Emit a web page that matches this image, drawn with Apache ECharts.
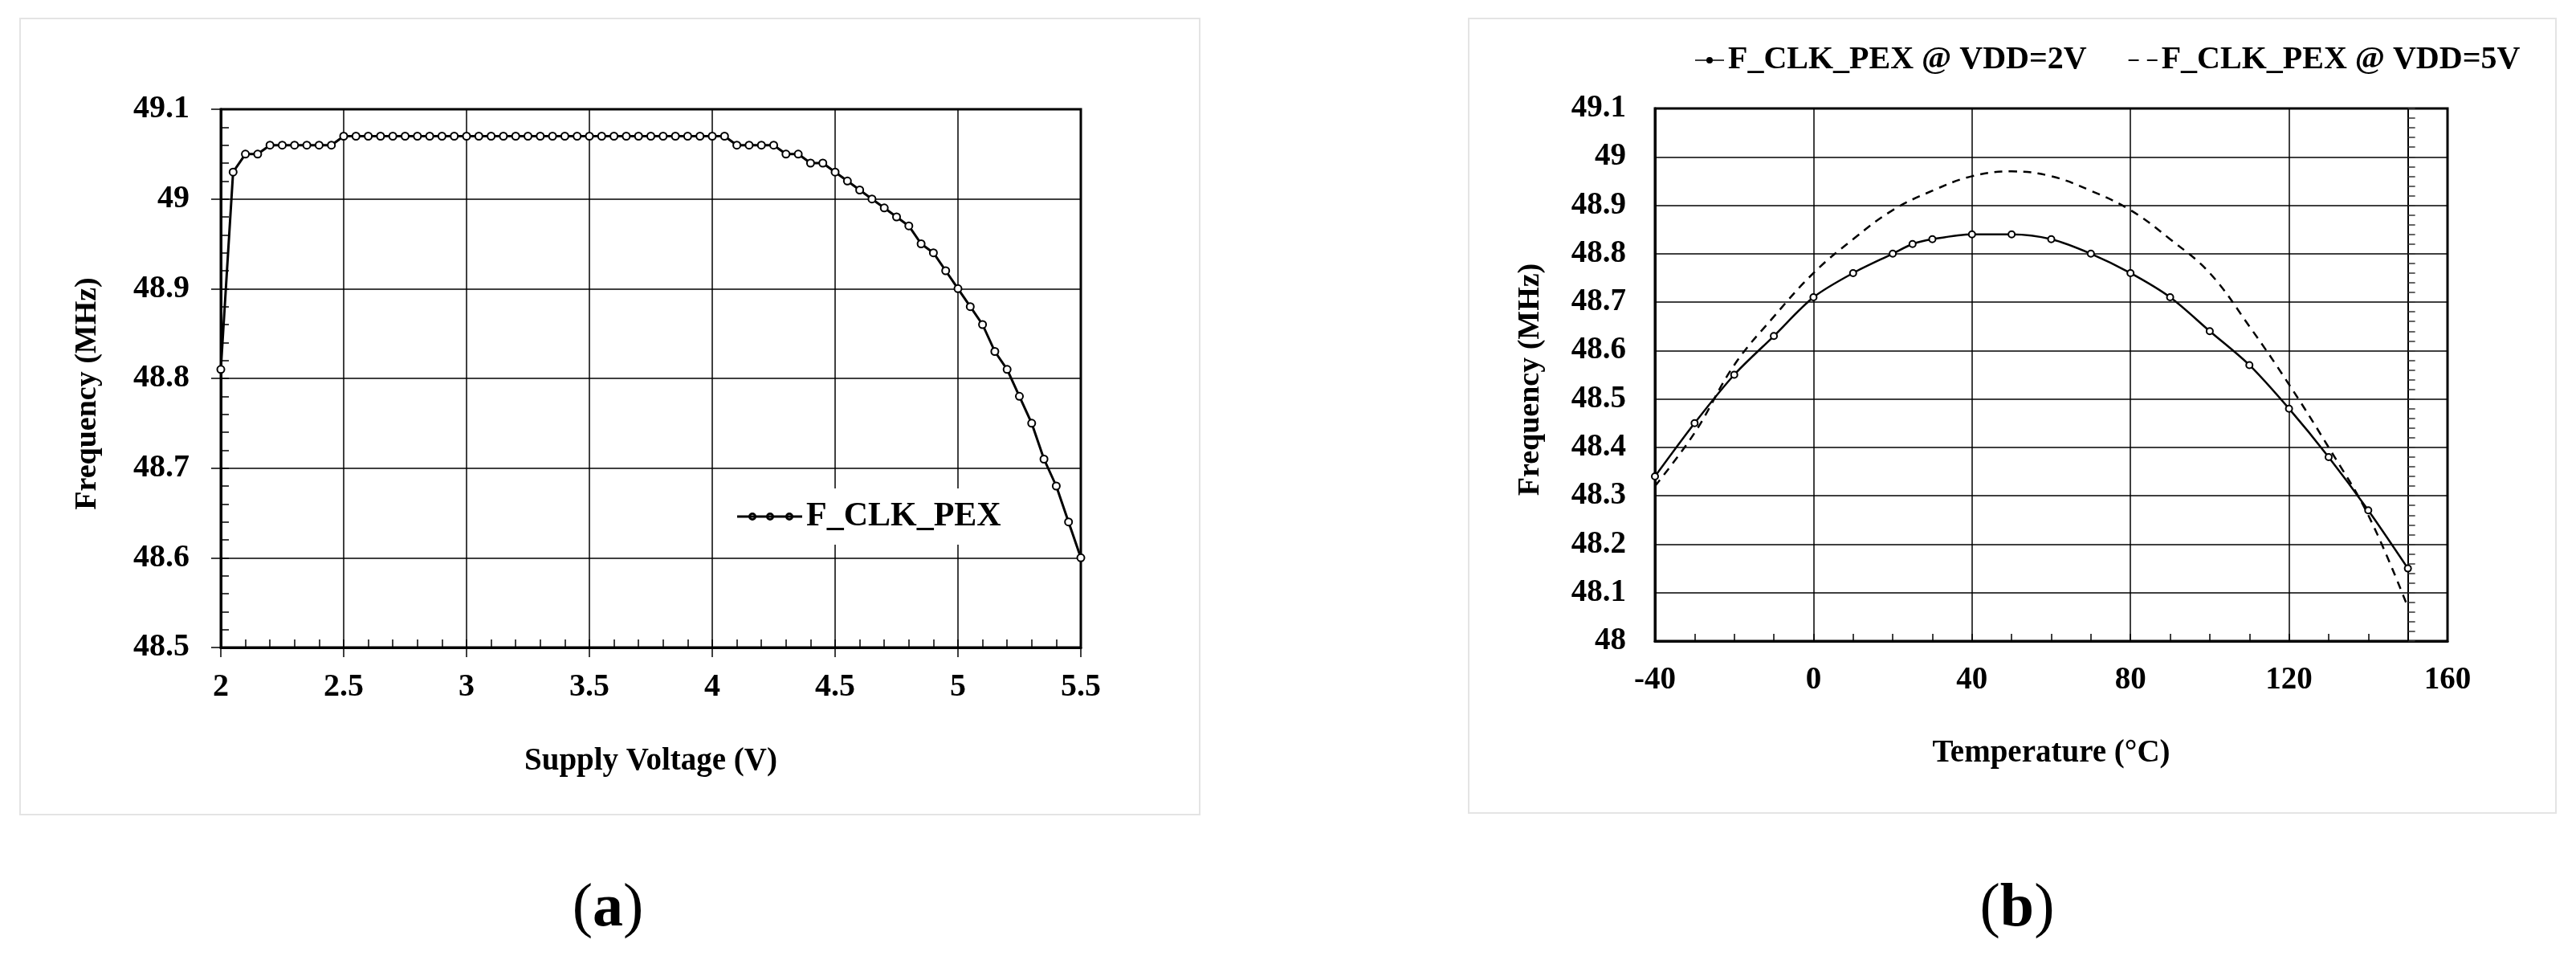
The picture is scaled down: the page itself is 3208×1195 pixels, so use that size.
<!DOCTYPE html>
<html>
<head>
<meta charset="utf-8">
<script src="https://cdn.jsdelivr.net/npm/echarts@6/dist/echarts.min.js"></script>
<style>
html,body{margin:0;padding:0;background:#fff;}
#c{width:3208px;height:1195px;}
</style>
</head>
<body>
<div id="c"></div>
<script>
// ---------- data ----------
const voltage = [2.00,2.05,2.10,2.15,2.20,2.25,2.30,2.35,2.40,2.45,
  2.50,2.55,2.60,2.65,2.70,2.75,2.80,2.85,2.90,2.95,
  3.00,3.05,3.10,3.15,3.20,3.25,3.30,3.35,3.40,3.45,
  3.50,3.55,3.60,3.65,3.70,3.75,3.80,3.85,3.90,3.95,
  4.00,4.05,4.10,4.15,4.20,4.25,4.30,4.35,4.40,4.45,
  4.50,4.55,4.60,4.65,4.70,4.75,4.80,4.85,4.90,4.95,
  5.00,5.05,5.10,5.15,5.20,5.25,5.30,5.35,5.40,5.45,5.50];
const freqVsVoltage = [48.81,49.03,49.05,49.05,49.06,49.06,49.06,49.06,49.06,49.06,
  49.07,49.07,49.07,49.07,49.07,49.07,49.07,49.07,49.07,49.07,
  49.07,49.07,49.07,49.07,49.07,49.07,49.07,49.07,49.07,49.07,
  49.07,49.07,49.07,49.07,49.07,49.07,49.07,49.07,49.07,49.07,
  49.07,49.07,49.06,49.06,49.06,49.06,49.05,49.05,49.04,49.04,
  49.03,49.02,49.01,49.00,48.99,48.98,48.97,48.95,48.94,48.92,
  48.90,48.88,48.86,48.83,48.81,48.78,48.75,48.71,48.68,48.64,48.60];

const temp2V = [-40,-30,-20,-10,0,10,20,25,30,40,50,60,70,80,90,100,110,120,130,140,150];
const freq2V = [48.34,48.45,48.55,48.63,48.71,48.76,48.80,48.82,48.83,48.84,48.84,48.83,48.80,48.76,48.71,48.64,48.57,48.48,48.38,48.27,48.15];

const temp5V = [-40,-30,-20,-10,0,10,20,30,40,50,60,70,80,90,100,110,120,130,140,150];
const freq5V = [48.32,48.43,48.57,48.67,48.76,48.83,48.89,48.93,48.96,48.97,48.96,48.93,48.89,48.83,48.76,48.65,48.53,48.40,48.26,48.07];

const nameA = 'F_CLK_PEX';
const name2V = 'F_CLK_PEX @ VDD=2V';
const name5V = 'F_CLK_PEX @ VDD=5V';
const titleXA = 'Supply Voltage (V)';
const titleXB = 'Temperature (°C)';
const titleY = 'Frequency (MHz)';

// ---------- styling helpers ----------
const FONT = 'Liberation Serif';
const lab = (size) => ({fontFamily: FONT, fontWeight: 'bold', fontSize: size, color: '#000'});
const fmt = v => String(Math.round(v * 100) / 100);
const BLACK = '#000';

const iconA = 'path://M0 3.5H81V6.5H0Z' +
  'M14 5a5 5 0 1 1 10 0a5 5 0 1 1 -10 0Z M16.8 5a2.2 2.2 0 1 0 4.4 0a2.2 2.2 0 1 0 -4.4 0Z' +
  'M36 5a5 5 0 1 1 10 0a5 5 0 1 1 -10 0Z M38.8 5a2.2 2.2 0 1 0 4.4 0a2.2 2.2 0 1 0 -4.4 0Z' +
  'M60 5a5 5 0 1 1 10 0a5 5 0 1 1 -10 0Z M62.8 5a2.2 2.2 0 1 0 4.4 0a2.2 2.2 0 1 0 -4.4 0Z';
const icon2V = 'path://M0 3.8H36V5.2H0Z M14 4.5a4 4 0 1 1 8 0a4 4 0 1 1 -8 0Z';
const icon5V = 'path://M4 0H14V1.6H4Z M22 0H32V1.6H22Z';

const chart = echarts.init(document.getElementById('c'), null, {renderer: 'canvas'});

const option = {
  backgroundColor: '#fff',
  animation: false,
  graphic: [
    {type: 'rect', silent: true, z: -10, shape: {x: 25, y: 23, width: 1469, height: 991},
     style: {fill: 'none', stroke: '#e4e4e4', lineWidth: 2}},
    {type: 'rect', silent: true, z: -10, shape: {x: 1829, y: 23, width: 1354, height: 989},
     style: {fill: 'none', stroke: '#e4e4e4', lineWidth: 2}},
    {type: 'text', x: 757, y: 1132, silent: true,
     style: {text: '{p|(}{b|a}{p|)}', align: 'center', verticalAlign: 'middle',
       rich: {p: {fontFamily: FONT, fontSize: 76, fontWeight: 'normal', fill: '#000'},
              b: {fontFamily: FONT, fontSize: 76, fontWeight: 'bold', fill: '#000'}}}},
    {type: 'text', x: 2512, y: 1132, silent: true,
     style: {text: '{p|(}{b|b}{p|)}', align: 'center', verticalAlign: 'middle',
       rich: {p: {fontFamily: FONT, fontSize: 76, fontWeight: 'normal', fill: '#000'},
              b: {fontFamily: FONT, fontSize: 76, fontWeight: 'bold', fill: '#000'}}}}
  ],
  legend: [
    {data: [{name: nameA, icon: iconA}], left: 908, top: 608, orient: 'horizontal',
     itemWidth: 81, itemHeight: 10, padding: [14, 10, 14, 10], backgroundColor: '#fff',
     selectedMode: false, textStyle: lab(42), itemStyle: {borderWidth: 0}},
    {data: [{name: name2V, icon: icon2V}, {name: name5V, icon: icon5V}], left: 2111, top: 55,
     itemWidth: 36, itemHeight: 9, itemGap: 52, padding: 0, selectedMode: false,
     textStyle: lab(40), itemStyle: {borderWidth: 0}}
  ],
  grid: [
    {left: 275, top: 136, width: 1071, height: 670, show: true, borderColor: BLACK, borderWidth: 3},
    {left: 2061, top: 135, width: 987, height: 663, show: true, borderColor: BLACK, borderWidth: 3}
  ],
  xAxis: [
    {gridIndex: 0, type: 'value', min: 2, max: 5.5, interval: 0.5, position: 'bottom',
     axisLine: {onZero: false, lineStyle: {color: BLACK, width: 3}},
     axisTick: {show: true, inside: false, length: 12, lineStyle: {color: BLACK, width: 1.5}},
     axisLabel: Object.assign(lab(40), {margin: 30, formatter: fmt}),
     splitLine: {show: true, lineStyle: {color: BLACK, width: 1.5}},
     name: titleXA, nameLocation: 'middle', nameGap: 122, nameTextStyle: lab(39)},
    {gridIndex: 0, type: 'value', min: 2, max: 5.5, interval: 0.1, position: 'bottom',
     axisLine: {show: false, onZero: false},
     axisTick: {show: true, inside: true, length: 10, lineStyle: {color: BLACK, width: 1.5}},
     axisLabel: {show: false}, splitLine: {show: false}},
    {gridIndex: 1, type: 'value', min: -40, max: 160, interval: 40, position: 'bottom',
     axisLine: {onZero: false, lineStyle: {color: BLACK, width: 3}},
     axisTick: {show: true, inside: true, length: 9, lineStyle: {color: BLACK, width: 1.5}},
     minorTick: {show: true, splitNumber: 4, length: 9, lineStyle: {color: BLACK, width: 1.5}},
     axisLabel: Object.assign(lab(39), {margin: 29, formatter: fmt}),
     splitLine: {show: true, lineStyle: {color: BLACK, width: 1.5}},
     name: titleXB, nameLocation: 'middle', nameGap: 120, nameTextStyle: lab(39)}
  ],
  yAxis: [
    {gridIndex: 0, type: 'value', min: 48.5, max: 49.1, interval: 0.1, position: 'left',
     axisLine: {onZero: false, lineStyle: {color: BLACK, width: 3}},
     axisTick: {show: true, inside: false, length: 12, lineStyle: {color: BLACK, width: 1.5}},
     axisLabel: Object.assign(lab(40), {margin: 39, formatter: fmt}),
     splitLine: {show: true, lineStyle: {color: BLACK, width: 1.5}},
     name: titleY, nameLocation: 'middle', nameGap: 147,
     nameTextStyle: Object.assign(lab(38), {padding: [0, 38, 0, 0]})},
    {gridIndex: 0, type: 'value', min: 48.5, max: 49.1, interval: 0.02, position: 'left',
     axisLine: {show: false, onZero: false},
     axisTick: {show: true, inside: true, length: 10, lineStyle: {color: BLACK, width: 1.5}},
     axisLabel: {show: false}, splitLine: {show: false}},
    {gridIndex: 1, type: 'value', min: 48, max: 49.1, interval: 0.1, position: 'left',
     axisLine: {onZero: false, lineStyle: {color: BLACK, width: 3}},
     axisTick: {show: false},
     axisLabel: Object.assign(lab(39), {margin: 36, formatter: fmt}),
     splitLine: {show: true, lineStyle: {color: BLACK, width: 1.5}},
     name: titleY, nameLocation: 'middle', nameGap: 136,
     nameTextStyle: Object.assign(lab(38), {padding: [0, 12, 0, 0]})},
    {gridIndex: 1, type: 'value', min: 48, max: 49.1, interval: 0.02, position: 'right', offset: -49.35,
     axisLine: {show: true, onZero: false, lineStyle: {color: BLACK, width: 2}},
     axisTick: {show: true, inside: false, length: 9, lineStyle: {color: '#333', width: 1.5}},
     axisLabel: {show: false}, splitLine: {show: false}}
  ],
  series: [
    {type: 'line', name: nameA, xAxisIndex: 0, yAxisIndex: 0, color: BLACK,
     data: voltage.map((v, i) => [v, freqVsVoltage[i]]),
     symbol: 'emptyCircle', symbolSize: 9, z: 5,
     lineStyle: {color: BLACK, width: 3}, itemStyle: {color: BLACK, borderColor: BLACK, borderWidth: 2.5}},
    {type: 'line', name: name2V, xAxisIndex: 2, yAxisIndex: 2, color: BLACK,
     data: temp2V.map((t, i) => [t, freq2V[i]]), smooth: 0.3,
     symbol: 'emptyCircle', symbolSize: 8, z: 5,
     lineStyle: {color: BLACK, width: 2.5}, itemStyle: {color: BLACK, borderColor: BLACK, borderWidth: 2}},
    {type: 'line', name: name5V, xAxisIndex: 2, yAxisIndex: 2, color: BLACK,
     data: temp5V.map((t, i) => [t, freq5V[i]]), smooth: 0.4,
     symbol: 'none', z: 4,
     lineStyle: {color: BLACK, width: 2.5, type: [10, 8]}}
  ]
};
chart.setOption(option);
</script>
</body>
</html>
